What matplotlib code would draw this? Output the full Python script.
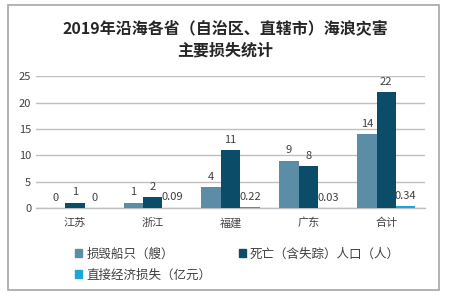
import matplotlib.pyplot as plt
import numpy as np
from matplotlib.patches import Rectangle

plt.rcParams['font.family'] = ['Noto Sans CJK SC', 'DejaVu Sans']

# data
provinces = ['江苏', '浙江', '福建', '广东', '合计']
ships = [0, 1, 4, 9, 14]
deaths = [1, 2, 11, 8, 22]
losses = [0, 0.09, 0.22, 0.03, 0.34]
series_names = ['损毁船只（艘）', '死亡（含失踪）人口（人）', '直接经济损失（亿元）']
colors = ['#5b8ea6', '#0b4d68', '#1aa6d8']

fig = plt.figure(figsize=(4.74, 2.94), dpi=100)

# outer frame
fig.patches.append(Rectangle((0.017, 0.014), 0.909, 0.969, transform=fig.transFigure,
                             fill=False, edgecolor='#a6a6a6', linewidth=1.2))

ax = fig.add_axes([0.076, 0.2925, 0.821, 0.4485])

x = np.arange(len(provinces))
w = 0.25
all_series = [ships, deaths, losses]
for i, (vals, c) in enumerate(zip(all_series, colors)):
    pos = x + (i - 1) * w
    ax.bar(pos, vals, width=w, color=c, zorder=3)
    for px, v in zip(pos, vals):
        ax.text(px, v + 1.0, f'{v:g}', ha='center', va='bottom', fontsize=8, color='#404040')

ax.set_ylim(0, 25)
ax.set_xlim(-0.5, len(provinces) - 0.5)
ax.set_yticks(range(0, 26, 5))
ax.set_xticks(x)
ax.set_xticklabels(provinces)
ax.tick_params(axis='both', length=0, labelsize=8, colors='#404040')
ax.tick_params(axis='x', pad=7)
ax.grid(axis='y', color='#bfbfbf', linewidth=1, zorder=0)
for s in ['top', 'right', 'left']:
    ax.spines[s].set_visible(False)
ax.spines['bottom'].set_color('#bfbfbf')
ax.spines['bottom'].set_linewidth(1)

fig.text(0.475, 0.865, '2019年沿海各省（自治区、直辖市）海浪灾害\n主要损失统计', ha='center', va='center',
         fontsize=11.5, fontweight='bold', color='#262626', linespacing=1.45)

# legend filled column-wise, so order handles to read row-wise like the original
order = [0, 2, 1]
handles = [Rectangle((0, 0), 1, 1, color=colors[k]) for k in order]
labels = [series_names[k] for k in order]
fig.legend(handles, labels, loc='upper left', bbox_to_anchor=(0.145, 0.18), ncol=2,
           frameon=False, fontsize=9, handlelength=0.6, handleheight=0.6, handletextpad=0.3,
           columnspacing=2.2, labelspacing=0.65, labelcolor='#404040', borderpad=0)

fig.savefig('out.png', dpi=100)
